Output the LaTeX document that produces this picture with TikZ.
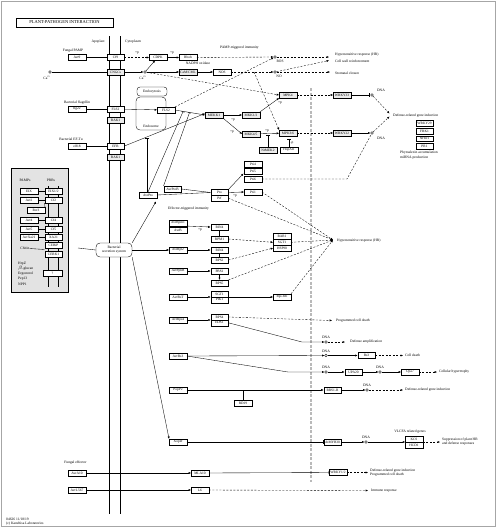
\documentclass[tikz,border=0pt]{standalone}
\usepackage{fontspec}
\setmainfont{Liberation Serif}
\usetikzlibrary{arrows.meta,calc}
\begin{document}
\begin{tikzpicture}[x=1pt,y=-1pt,
  gene/.style={draw, line width=0.35pt, fill=white, minimum width=17.5pt, minimum height=5.8pt, inner sep=0pt, font=\fontsize{3.5}{3.7}\selectfont},
  ggene/.style={gene, fill=gray!15},
  lbl/.style={font=\fontsize{3.6}{4.2}\selectfont, inner sep=0pt},
  cpd/.style={circle, draw, fill=white, minimum size=2.8pt, inner sep=0pt, line width=0.35pt},
  act/.style={-{Latex[length=2.4pt,width=2.1pt]}, line width=0.35pt},
  dact/.style={act, dash pattern=on 2pt off 1.5pt},
  inh/.style={-{Bar[width=3.2pt]}, line width=0.35pt},
  ln/.style={line width=0.35pt},
  dln/.style={ln, dash pattern=on 2pt off 1.5pt},
]
\useasboundingbox (0,0) rectangle (497,528);
\draw[gray!70, line width=0.7pt] (1,1) rectangle (495.5,526.5);

% membranes and nucleus boundary
\draw[double, line width=0.45pt, double distance=0.9pt] (110,36) -- (110,514);
\draw[double, line width=0.45pt, double distance=0.9pt] (121,36) -- (121,514);
\draw[gray!55, line width=1.1pt, dash pattern=on 3pt off 1.5pt] (311,88) -- (311,482);

% title
\node[draw, line width=0.7pt, minimum width=97pt, minimum height=9pt, inner sep=0pt, font=\fontsize{4.5}{5}\selectfont] (title) at (64.5,22.5) {PLANT-PATHOGEN INTERACTION};

\node[lbl] (apo) at (98,42) {Apoplast};
\node[lbl] (cyto) at (133,42) {Cytoplasm};
\node[lbl] (fpamp) at (73,51) {Fungal PAMP};
\node[lbl, anchor=west] (pti) at (220,48) {PAMP-triggered immunity};
\node[lbl] (nadph) at (198,63) {NADPH oxidase};
\node[lbl] (bflag) at (77,103) {Bacterial flagellin};
\node[lbl] (beftu) at (71,139) {Bacterial EF-Tu};

% top row
\node[gene] (avr9) at (77,57.5) {Avr9};
\node[gene] (cf9) at (115.5,57.5) {Cf9};
\node[gene] (cdpk) at (158,57.5) {CDPK};
\node[gene] (rboh) at (188,57.5) {Rboh};
\node[cpd] (ros) at (275,57) {};
\node[lbl] (roslbl) at (280,61) {ROS};
\node[lbl, anchor=west] (hrtxt1) at (335,55) {Hypersensitive response (HR)};
\node[lbl, anchor=west] (cwtxt) at (335,61) {Cell wall reinforcement};
\coordinate (hrtop) at (329,57);
\coordinate (cwend) at (329,60.5);

\node[cpd] (ca1) at (50,72) {};
\node[lbl] (ca1lbl) at (47,77.5) {Ca\textsuperscript{2+}};
\node[ggene] (cngc) at (115.5,72) {CNGCs};
\node[cpd] (ca2) at (145,72) {};
\node[lbl] (ca2lbl) at (143,78) {Ca\textsuperscript{2+}};
\node[ggene] (cam) at (188,72) {CaM/CML};
\node[gene] (nos) at (222,72) {NOS};
\node[cpd] (no) at (275,72) {};
\node[lbl] (nolbl) at (279,76) {NO};
\node[lbl, anchor=west] (stom) at (335,73) {Stomatal closure};
\coordinate (stomend) at (330,72);
\coordinate (brk) at (254,72);

% endosome
\node[draw, rounded corners=3pt, line width=0.35pt, minimum width=30pt, minimum height=9pt, inner sep=0pt, lbl] (endoc) at (152,91.5) {Endocytosis};
\draw[rounded corners=4pt, line width=0.35pt] (136,97) rectangle (166,130);
\node[lbl] (endos) at (151,126) {Endosome};

\node[gene] (flg22) at (77,109) {flg22};
\node[gene] (fls2) at (115.5,109) {FLS2};
\node[gene] (fls2b) at (166,110) {FLS2};
\node[ggene] (bak1) at (115.5,120) {BAK1};
\node[gene] (elf18) at (77,146) {elf18};
\node[gene] (efr) at (115.5,146) {EFR};
\node[ggene] (bak1b) at (115.5,157) {BAK1};

% MAPK cascade
\node[ggene] (mekk1) at (214,115) {MEKK1};
\node[ggene] (mkk12) at (251,115) {MKK1/2};
\node[ggene] (mkk45) at (251,134) {MKK4/5};
\node[ggene] (ntmek2) at (268,150) {NtMEK2};
\node[ggene] (mpk4) at (288,95) {MPK4};
\node[ggene] (mpk36) at (288,133) {MPK3/6};
\node[gene] (hopai1) at (289,150) {HopAI1};
\node[ggene] (wrky33) at (342,95) {WRKY33};
\node[ggene] (wrky22) at (342,133) {WRKY22};
\node[cpd] (dna1) at (372,95) {};
\node[lbl] (dna1l) at (381,90) {DNA};
\node[cpd] (dna2) at (372,133) {};
\node[lbl] (dna2l) at (381,138) {DNA};
\node[lbl, anchor=west] (defind) at (393,115.5) {Defense-related gene induction};
\coordinate (defa) at (389.5,113.5);
\coordinate (defb) at (389.5,116.5);
\node[gene] (wrky29) at (424.5,123.5) {WRKY29};
\node[gene] (frk1) at (424.5,131) {FRK1};
\node[gene] (nho1) at (424.5,138.7) {NHO1};
\node[gene] (pr1) at (424.5,146) {PR1};
\node[lbl, anchor=west] (phyto) at (400,153) {Phytoalexin accumulation};
\node[lbl, anchor=west] (mirna) at (400,158) {miRNA production};

% left PAMP box
\draw[fill=gray!22, line width=0.6pt] (11,168) rectangle (68,292);
\draw[ln] (48,186) -- (48,287);
\draw[ln] (58,186) -- (58,287);
\node[lbl] (pamps) at (25,180) {PAMPs};
\node[lbl] (prrs) at (51,180) {PRRs};
\node[gene] (eix) at (29,191) {EIX};
\node[gene] (eix12) at (53.5,191) {EIX1/2};
\node[gene] (avr2) at (29,200) {Avr2};
\node[gene] (cf2) at (53.5,200) {Cf2};
\node[gene] (rcr3) at (36,210) {Rcr3};
\node[gene] (avr4) at (29,220) {Avr4};
\node[gene] (cf4) at (53.5,220) {Cf4};
\node[gene] (avr5) at (29,229) {Avr5};
\node[gene] (cf5) at (53.5,229) {Cf5};
\node[gene] (avrxa21) at (29,237.5) {AvrXa21};
\node[gene] (xa21) at (53.5,237.5) {XA21};
\node[gene] (cebip) at (53.5,245) {CEBiP};
\node[gene] (cerk1) at (53.5,254) {CERK1};
\node[lbl] (chitin) at (25,248.5) {Chitin};
\node[lbl, anchor=west, align=left, font=\fontsize{3.6}{5.2}\selectfont] (elic) at (18,273.5) {HrpZ\\$\beta$-glucan\\Ergosterol\\Pep13\\NPP1};
\node[gene, minimum width=19pt] (qbox) at (52.5,273) {?};
\draw[ln] (eix) -- (eix12);
\draw[ln] (avr2) -- (cf2);
\draw[ln] (rcr3.north east) -- (cf2.south west);
\draw[ln] (avr4) -- (cf4);
\draw[ln] (avr5) -- (cf5);
\draw[ln] (avrxa21) -- (xa21);
\draw[ln] (chitin.east) -- (44.5,249.5);

% effector-triggered immunity
\node[draw, fill=white, rounded corners=4pt, line width=0.35pt, minimum width=36pt, minimum height=14pt, inner sep=0pt, align=center, lbl] (sec) at (114,250) {Bacterial\\secretion system};
\coordinate (injl) at (78,248);
\node[gene] (avrpto) at (148,195) {AvrPto};
\node[gene] (avrptob) at (172.5,189) {AvrPtoB};
\node[gene] (pto) at (219.5,192.5) {Pto};
\node[gene] (prf) at (219.5,198.3) {Prf};
\node[gene] (pti4) at (253,164) {Pti4};
\node[gene] (pti5) at (253,171.5) {Pti5};
\node[gene] (pti6) at (253,179) {Pti6};
\node[gene] (pti1) at (253,192) {Pti1};
\node[lbl, anchor=west] (eti) at (168,209) {Effector-triggered immunity};
\node[gene] (avrrpm1) at (178,223) {AvrRpm1};
\node[gene] (avrb) at (178,230) {AvrB};
\node[gene] (rin4a) at (219.5,227) {RIN4};
\node[gene] (rpm1) at (219.5,239) {RPM1};
\node[gene] (avrrpt2) at (178,250) {AvrRpt2};
\node[gene] (rin4b) at (219.5,250) {RIN4};
\node[gene] (rps2) at (219.5,260) {RPS2};
\node[gene] (rar1) at (282,236.5) {RAR1};
\node[gene] (sgt1) at (282,242.3) {SGT1};
\node[gene] (hsp90) at (282,248.1) {HSP90};
\coordinate (hr) at (333,240);
\node[lbl, anchor=west] (hrtxt) at (337,241) {Hypersensitive response (HR)};
\node[gene] (avrpphb) at (178,271) {AvrPphB};
\node[gene] (pbs1) at (219.5,271) {PBS1};
\node[gene] (rps5) at (219.5,283) {RPS5};
\node[gene] (avrbst) at (178,297) {AvrBsT};
\node[gene] (sgt1b) at (219.5,294) {SGT1};
\node[gene] (pik1) at (219.5,299.8) {PIK1};
\node[gene] (rpi) at (282,297) {Rpi-blb};
\node[gene] (avrrps4) at (178,320) {AvrRps4};
\node[gene] (rps4) at (219.5,317) {RPS4};
\node[gene] (eds1) at (219.5,322.8) {EDS1};
\node[lbl, anchor=west] (pcd) at (336,321) {Programmed cell death};
\node[cpd] (dna3) at (326,342) {};
\node[lbl] (dna3l) at (326,337.5) {DNA};
\node[lbl, anchor=west] (defamp) at (350,342) {Defense amplification};
\node[gene] (avrbs3) at (178,356) {AvrBs3};
\node[cpd] (dna4) at (326,355.5) {};
\node[lbl] (dna4l) at (326,351) {DNA};
\node[gene] (bs3) at (366.5,355.5) {Bs3};
\node[lbl, anchor=west] (celld) at (405,355.5) {Cell death};
\node[cpd] (dna5) at (326,372) {};
\node[lbl] (dna5l) at (326,367.5) {DNA};
\node[gene] (upa20) at (353.5,372) {UPA20};
\node[cpd] (dna6) at (380,372) {};
\node[lbl] (dna6l) at (380,367.5) {DNA};
\node[gene] (upa7) at (410,372) {Upa7};
\node[lbl, anchor=west] (hyper) at (439,372) {Cellular hypertrophy};
\node[gene] (popp2) at (178,390) {PopP2};
\node[gene] (rrs1) at (332.5,390) {RRS1-R};
\node[cpd] (dna7) at (367,390) {};
\node[lbl] (dna7l) at (367,385.5) {DNA};
\node[lbl, anchor=west] (defind2) at (405,390) {Defense-related gene induction};
\node[gene] (rd19) at (243,403) {RD19};
\node[gene] (xopd) at (178,442) {XopD};
\node[gene] (atmyb30) at (332.5,442) {AtMYB30};
\node[cpd] (dna8) at (366,442) {};
\node[lbl] (dna8l) at (366,437.5) {DNA};
\node[lbl] (vlcfa) at (410,431.5) {VLCFA related genes};
\node[gene] (kcs) at (414,439) {KCS};
\node[gene] (hcd1) at (414,445.3) {HCD1};
\node[lbl, anchor=west, align=left] (supp) at (442,442) {Suppression of plant HR\\and defense responses};

\node[lbl] (feff) at (75.5,463) {Fungal effector};
\node[gene] (avra10) at (77,473) {AvrA10};
\node[gene] (mla10) at (200,473) {MLA10};
\node[gene] (wrky12) at (338,472.5) {WRKY1/2};
\node[lbl, anchor=west, align=left] (defpcd) at (370,473) {Defense-related gene induction\\Programmed cell death};
\node[gene] (avrl567) at (77,490) {AvrL567};
\node[gene] (l6) at (200,490) {L6};
\node[lbl, anchor=west] (immr) at (371,490.5) {Immune response};

\node[lbl, anchor=west, align=left] (foot) at (6,522) {04626 11/18/19\\(c) Kanehisa Laboratories};

% ---- connectors: top
\draw[ln] (avr9) -- (cf9);
\draw[dact] (cf9) -- (cdpk);
\node[lbl] (p1) at (137,53) {+p};
\draw[act] (cdpk) -- (rboh);
\node[lbl] (p2) at (172,53) {+p};
\draw[dact] (rboh) -- (ros);
\draw[dact] (ros) -- (hrtop);
\draw[ln] (ca1) -- (cngc);
\draw[act] (cngc) -- (ca2);
\draw[act] (ca2) -- ([xshift=-3pt]cdpk.south);
\draw[act] (ca2) -- (cam);
\draw[act] (cam) -- (nos);
\draw[dact] (nos) -- (no);
\draw[dact] (no) -- (stomend);
\draw[dact] (no) -- (cwend);
\draw[dact] (ca2) -- (mpk4.west);
\draw[dact] (brk) -- (mpk36.north west);

\draw[ln] (flg22) -- (fls2);
\draw[act] (fls2) -- (fls2b);
\draw[act] (fls2b.east) -- (mekk1.west);
\draw[dact] (fls2b.north east) -- (ros);
\draw[ln] (elf18) -- (efr);
\draw[act] (efr.east) -- ([yshift=1.5pt]mekk1.west);

\draw[act] (mekk1) -- (mkk12);
\node[lbl] (p3) at (233,119.5) {+p};
\draw[act] (mekk1.south east) -- (mkk45.west);
\node[lbl] (p4) at (232,131.5) {+p};
\draw[act] (mkk12.north east) -- (mpk4.south west);
\node[lbl] (p5) at (280,103) {+p};
\draw[act] (mkk45) -- (mpk36);
\node[lbl] (p6) at (267,131) {+p};
\draw[dact] (mpk4) -- (wrky33);
\draw[dact] (mpk36) -- (wrky22);
\draw[inh] (wrky33.east) -- (369.6,95);
\draw[act] (wrky22) -- (dna2);
\draw[dact] (dna1) -- (defa);
\draw[dact] (dna2) -- (defb);
\draw[inh] (ntmek2.north) -- (268,135.2);
\draw[inh] (hopai1.north) -- (289,138.5);
\node[lbl] (mp) at (292,143) {-p};

% effectors
\draw[inh] (avrpto.north) -- (183,111.6);
\draw[inh] (avrptob.north west) -- (189.5,112.6);
\draw[inh] ([xshift=-1pt]avrpto.north) -- (147,138);
\draw[ln] (avrpto.east) -- (pto.west);
\draw[ln] (avrptob.east) -- (pto.west);
\draw[act] (pto.north east) -- (243.5,173.5);
\draw[act] (pto.east) -- (pti1.west);
\node[lbl] (p7) at (235,195.5) {+p};
\draw[dln] (pti6.east) -- (347,179) -- (dna2);
\draw[dact] (pti1.east) -- (hr);
\draw[dact] (prf.east) -- (hr);

\draw[ln] (injl) -- (sec.west);
\draw[act] (sec.north east) -- (156,201.5);
\draw[act] (sec.east) -- (avrrpt2.west);
\draw[act] (sec.south east) -- (xopd.north west);

\draw[act] (avrrpm1.south east) -- (rin4a.west);
\node[lbl] (p8) at (200,229.5) {+p};
\draw[inh] (rin4a.south) -- (rpm1.north);
\draw[dact] (rpm1.east) -- (sgt1.west);
\draw[act] (avrrpt2) -- (rin4b);
\draw[inh] (rin4b.south) -- (rps2.north);
\draw[dact] (rps2.east) -- (hsp90.west);
\draw[dact] (sgt1.east) -- (hr);
\draw[act] (avrpphb) -- (pbs1);
\draw[act] (pbs1) -- (rps5);
\draw[dact] (rps5.north east) -- (hr);
\draw[act] (avrbst.east) -- (210.7,297);
\draw[act] (228.3,297) -- (rpi.west);
\draw[dact] (rpi.north east) -- (hr);
\draw[act] (avrrps4.east) -- (210.7,320);
\draw[dact] (rps4.east) -- (332,320.5);
\draw[act] (eds1.east) -- (302,342) -- (dna3);
\draw[dact] (dna3) -- (345,342);
\draw[act] (avrbs3.east) -- (dna4);
\draw[act] (dna4) -- (bs3);
\draw[dact] (bs3) -- (403,355.5);
\draw[act] (avrbs3.east) -- (288,372) -- (dna5);
\draw[act] (dna5) -- (upa20);
\draw[act] (upa20) -- (dna6);
\draw[act] (dna6) -- (upa7);
\draw[dact] (upa7) -- (437,372);
\draw[act] (popp2) -- (rrs1);
\draw[act] (rrs1) -- (dna7);
\draw[dact] (dna7) -- (403,390);
\draw[ln] (rd19.north) -- (243,390);
\draw[inh] (xopd) -- (atmyb30);
\draw[act] (atmyb30) -- (dna8);
\draw[act] (dna8) -- (405.2,442);
\draw[dact] (422.8,442) -- (440,442);
\draw[act] (avra10) -- (mla10);
\draw[inh] (mla10) -- (wrky12);
\draw[dact] (wrky12) -- (368,472.5);
\draw[act] (avrl567) -- (l6);
\draw[dact] (l6) -- (368,490.5);
\end{tikzpicture}
\end{document}
